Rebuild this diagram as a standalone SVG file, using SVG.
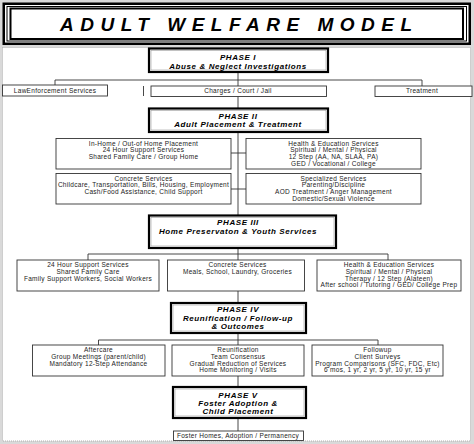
<svg xmlns="http://www.w3.org/2000/svg" width="474" height="444" viewBox="0 0 474 444">
<style>
.bx{fill:#fff;stroke:#333;stroke-width:0.9}
.ph{fill:#fff;stroke:#000;stroke-width:2.2}
.phi{fill:none;stroke:#999;stroke-width:0.6}
.t{font-family:"Liberation Sans",Arial,sans-serif;font-size:6.5px;letter-spacing:0.3px;fill:#222;text-anchor:middle}
.p{font-family:"Liberation Sans",Arial,sans-serif;font-size:8px;letter-spacing:0.6px;font-weight:bold;font-style:italic;fill:#000;text-anchor:middle}
.ln{stroke:#333;stroke-width:0.9;fill:none}
</style>
<rect x="0" y="0" width="474" height="444" fill="#d9d9d9"/>
<rect x="2.5" y="47.5" width="468" height="393.5" fill="#fff" stroke="#b0b0b0" stroke-width="1" stroke-dasharray="1,1"/>
<g id="title">
<rect x="2.5" y="2.5" width="468.5" height="42.5" fill="#000"/>
<rect x="5" y="5" width="463.5" height="37.5" fill="#fff"/>
<rect x="7" y="6.5" width="459.5" height="34.5" fill="none" stroke="#000" stroke-width="1"/>
<rect x="10.5" y="8.5" width="452.5" height="30.5" fill="#fff" stroke="#000" stroke-width="2"/>
<text x="60" y="31" textLength="352" lengthAdjust="spacing" style="font-family:'Liberation Sans',Arial,sans-serif;font-size:19px;font-weight:bold;font-style:italic;fill:#000">ADULT WELFARE MODEL</text>
</g>
<g id="connectors">
<line class="ln" x1="238" y1="72" x2="238" y2="86"/>
<line class="ln" x1="55" y1="80" x2="422" y2="80"/>
<line class="ln" x1="55" y1="80" x2="55" y2="85"/>
<line class="ln" x1="422" y1="80" x2="422" y2="86"/>
<line class="ln" x1="143.5" y1="86" x2="143.5" y2="96" stroke="#666"/>
<line class="ln" x1="238" y1="96" x2="238" y2="108"/>
<line class="ln" x1="238" y1="132" x2="238" y2="215"/>
<line class="ln" x1="231" y1="153" x2="246" y2="153"/>
<line class="ln" x1="231" y1="189" x2="246" y2="189"/>
<line class="ln" x1="238" y1="248" x2="238" y2="260"/>
<line class="ln" x1="88" y1="254" x2="388" y2="254"/>
<line class="ln" x1="88" y1="254" x2="88" y2="260"/>
<line class="ln" x1="388" y1="254" x2="388" y2="260"/>
<line class="ln" x1="238" y1="291" x2="238" y2="303"/>
<line class="ln" x1="238" y1="333" x2="238" y2="345"/>
<line class="ln" x1="98.5" y1="340" x2="378" y2="340"/>
<line class="ln" x1="98.5" y1="340" x2="98.5" y2="345"/>
<line class="ln" x1="378" y1="340" x2="378" y2="345"/>
<line class="ln" x1="238" y1="376" x2="238" y2="387"/>
<line class="ln" x1="238" y1="418" x2="238" y2="431"/>
</g>
<g id="phase1">
<rect class="ph" x="149" y="48.5" width="179" height="23.5"/>
<rect class="phi" x="151" y="50.5" width="175" height="19.5"/>
<text class="p" x="238" y="60">PHASE I</text>
<text class="p" x="238" y="69">Abuse &amp; Neglect Investigations</text>
</g>
<g id="law">
<rect class="bx" x="2.5" y="85" width="105" height="11"/>
<text class="t" x="55" y="92.6">LawEnforcement Services</text>
</g>
<g id="charges">
<rect class="bx" x="151" y="86" width="175.5" height="10.5"/>
<text class="t" x="238" y="93.4">Charges / Court / Jail</text>
</g>
<g id="treatment">
<rect class="bx" x="375" y="86" width="97" height="10.5"/>
<text class="t" x="422" y="93.4">Treatment</text>
</g>
<g id="phase2">
<rect class="ph" x="149" y="108.5" width="179" height="23.5"/>
<rect class="phi" x="151" y="110.5" width="175" height="19.5"/>
<text class="p" x="238" y="118.5">PHASE II</text>
<text class="p" x="238" y="127">Adult Placement &amp; Treatment</text>
</g>
<g id="p2a">
<rect class="bx" x="56" y="138.5" width="175" height="30.5"/>
<text class="t" x="143.5" y="145.6">In-Home / Out-of Home Placement</text>
<text class="t" x="143.5" y="152.3">24 Hour Support Services</text>
<text class="t" x="143.5" y="159">Shared Family Care / Group Home</text>
</g>
<g id="p2b">
<rect class="bx" x="246" y="138.5" width="175" height="30.5"/>
<text class="t" x="333.5" y="145.6">Health &amp; Education Services</text>
<text class="t" x="333.5" y="152.3">Spiritual / Mental / Physical</text>
<text class="t" x="333.5" y="159">12 Step (AA, NA, SLAA, PA)</text>
<text class="t" x="333.5" y="165.7">GED  / Vocational / College</text>
</g>
<g id="p2c">
<rect class="bx" x="56" y="173.5" width="175" height="30.5"/>
<text class="t" x="143.5" y="180.6">Concrete Services</text>
<text class="t" x="143.5" y="187.3">Childcare, Transportation, Bills, Housing, Employment</text>
<text class="t" x="143.5" y="194">Cash/Food Assistance, Child Support</text>
</g>
<g id="p2d">
<rect class="bx" x="246" y="173.5" width="175" height="30.5"/>
<text class="t" x="333.5" y="180.6">Specialized Services</text>
<text class="t" x="333.5" y="187.3">Parenting/Discipline</text>
<text class="t" x="333.5" y="194">AOD Treatment / Anger Management</text>
<text class="t" x="333.5" y="200.7">Domestic/Sexual Violence</text>
</g>
<g id="phase3">
<rect class="ph" x="149" y="215.5" width="187" height="32.5"/>
<rect class="phi" x="151" y="217.5" width="183" height="28.5"/>
<text class="p" x="238" y="225">PHASE III</text>
<text class="p" x="238" y="233.5">Home Preservaton &amp; Youth Services</text>
</g>
<g id="p3a">
<rect class="bx" x="17" y="260" width="142" height="31"/>
<text class="t" x="88" y="267.3">24 Hour Support Services</text>
<text class="t" x="88" y="274">Shared Family Care</text>
<text class="t" x="88" y="280.7">Family Support Workers, Social Workers</text>
</g>
<g id="p3b">
<rect class="bx" x="167.5" y="260" width="137" height="31"/>
<text class="t" x="237.5" y="267.3">Concrete Services</text>
<text class="t" x="237.5" y="274">Meals, School, Laundry, Groceries</text>
</g>
<g id="p3c">
<rect class="bx" x="317" y="260" width="144" height="31"/>
<text class="t" x="389" y="267.3">Health &amp; Education Services</text>
<text class="t" x="389" y="274">Spiritual / Mental / Physical</text>
<text class="t" x="389" y="280.7">Therapy / 12 Step (Alateen)</text>
<text class="t" x="389" y="287.4">After school / Tutoring / GED/ College Prep</text>
</g>
<g id="phase4">
<rect class="ph" x="171" y="303" width="135" height="30"/>
<rect class="phi" x="173" y="305" width="131" height="26"/>
<text class="p" x="238" y="312">PHASE IV</text>
<text class="p" x="238" y="320.5">Reunification / Follow-up</text>
<text class="p" x="238" y="329">&amp; Outcomes</text>
</g>
<g id="p4a">
<rect class="bx" x="32.5" y="345" width="132.5" height="31"/>
<text class="t" x="98.5" y="352.3">Aftercare</text>
<text class="t" x="98.5" y="359">Group Meetings (parent/child)</text>
<text class="t" x="98.5" y="365.7">Mandatory 12-Step Attendance</text>
</g>
<g id="p4b">
<rect class="bx" x="172" y="345" width="132" height="31"/>
<text class="t" x="238" y="352.3">Reunification</text>
<text class="t" x="238" y="359">Team Consensus</text>
<text class="t" x="238" y="365.7">Gradual Reduction of Services</text>
<text class="t" x="238" y="372.4">Home Monitoring / Visits</text>
</g>
<g id="p4c">
<rect class="bx" x="312" y="345" width="131" height="31"/>
<text class="t" x="377.5" y="352.3">Followup</text>
<text class="t" x="377.5" y="359">Client Surveys</text>
<text class="t" x="377.5" y="365.7">Program Comparisons (SFC, FDC, Etc)</text>
<text class="t" x="377.5" y="372.4">6 mos, 1 yr, 2 yr, 5 yr, 10 yr, 15 yr</text>
</g>
<g id="phase5">
<rect class="ph" x="173" y="387" width="133" height="31"/>
<rect class="phi" x="175" y="389" width="129" height="27"/>
<text class="p" x="238" y="398">PHASE V</text>
<text class="p" x="238" y="406.2">Foster Adoption &amp;</text>
<text class="p" x="238" y="414.4">Child Placement</text>
</g>
<g id="final">
<rect class="bx" x="173.5" y="431" width="130" height="9.5"/>
<text class="t" x="238" y="437.9">Foster Homes, Adoption / Permanency</text>
</g>
</svg>
